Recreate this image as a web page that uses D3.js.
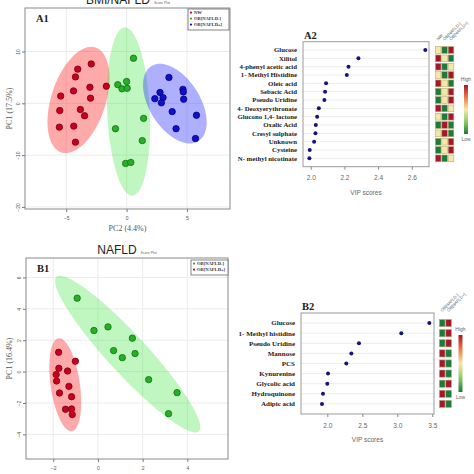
<!DOCTYPE html>
<html>
<head>
<meta charset="utf-8">
<script src="https://cdn.jsdelivr.net/npm/d3@7"></script>
<style>
body { margin: 0; background: #fff; }
svg { display: block; }
</style>
</head>
<body>
<svg id="chart" width="474" height="474"></svg>
<script>
// A1 score plot, each point is [PC2, PC1]
var a1Groups = ["NW", "OB[NAFLD-]", "OB[NAFLD+]"];
var a1NW = [[-2.93, 7.6], [-4.05, 6.6], [-4.24, 5.1], [-5.46, 1.4], [-4.40, 2.4], [-3.04, 3.1], [-2.99, 1.0],
            [-3.83, -1.2], [-5.54, -1.4], [-3.48, -2.4], [-5.57, -4.6], [-4.38, -4.4], [-4.24, -7.5], [-1.68, 3.3]];
var a1Neg = [[0.57, 8.7], [0.0, 4.2], [-0.73, 3.6], [-0.38, 2.8], [0.05, 2.9], [1.41, -2.9], [-0.92, -4.9],
             [1.30, -7.2], [-0.08, -11.6], [0.35, -11.4]];
var a1Pos = [[3.51, 5.0], [2.77, 2.1], [2.34, 0.9], [3.02, 1.1], [2.88, 0.1], [4.67, 2.7], [4.70, 2.2],
             [4.73, 0.8], [3.78, -1.6], [5.79, -2.3], [4.10, -4.9], [5.71, -6.8]];
var a1XTicks = [-5, 0, 5];
var a1YTicks = [10, 0, -10, -20];

// B1 score plot
var b1Groups = ["OB[NAFLD-]", "OB[NAFLD+]"];
var b1Neg = [[-0.93, 4.68], [-0.18, 2.62], [0.45, 2.85], [1.54, 2.13], [0.70, 1.34], [1.66, 1.15], [1.09, 0.89],
             [2.27, -0.51], [3.54, -1.34], [3.16, -2.68]];
var b1Pos = [[-1.76, 1.23], [-1.01, 0.66], [-1.75, 0.21], [-1.36, 0.04], [-1.87, -0.19], [-1.85, -0.60],
             [-1.30, -0.94], [-1.72, -1.36], [-1.18, -1.60], [-1.45, -2.40], [-1.18, -2.38], [-1.15, -2.74]];
var b1XTicks = [-2, 0, 2, 4];
var b1YTicks = [6, 4, 2, 0, -2, -4];

// A2 VIP scores
var a2Metabolites = ["Glucose", "Xilitol", "4-phenyl acetic acid", "1- Methyl Histidine", "Oleic acid",
  "Sebacic Acid", "Pseudo Uridine", "4- Deoxyerythronate", "Glucono 1,4- lactone", "Oxalic Acid",
  "Cresyl sulphate", "Unknown", "Cysteine", "N- methyl nicotinate"];
var a2Vip = [2.68, 2.283, 2.224, 2.214, 2.091, 2.085, 2.081, 2.048, 2.038, 2.030, 2.028, 2.020, 1.994, 1.992];
var a2Columns = ["NW", "OB[NAFLD-]", "OB[NAFLD+]"];
// 1 = high, 0 = mid, -1 = low
var a2Heat = [[0, -1, 1], [1, 0, -1], [1, -1, 0], [0, -1, 1], [1, 0, -1], [-1, 0, 1], [-1, 0, 1],
              [1, -1, 0], [0, -1, 1], [-1, 1, -1], [0, 1, -1], [-1, 0, 1], [-1, 0, 1], [1, -1, 0]];
var a2Ticks = [2.0, 2.2, 2.4, 2.6];

// B2 VIP scores
var b2Metabolites = ["Glucose", "1- Methyl histidine", "Pseudo Uridine", "Mannose", "PCS", "Kynurenine",
  "Glycolic acid", "Hydroquinone", "Adipic acid"];
var b2Vip = [3.457, 3.057, 2.452, 2.343, 2.271, 2.01, 2.0, 1.938, 1.924];
var b2Columns = ["OB[NAFLD-]", "OB[NAFLD+]"];
var b2Heat = [[-1, 1], [-1, 1], [-1, 1], [1, -1], [1, -1], [1, -1], [-1, 1], [1, -1], [1, -1]];
var b2Ticks = [2.0, 2.5, 3.0, 3.5];

var svg = d3.select("#chart");
var serif = "'Liberation Serif', 'Times New Roman', serif";
var sans = "'Liberation Sans', Arial, sans-serif";
var level = 0.93;

var heatColor = d3.scaleLinear()
    .domain([-1, -0.5, 0, 0.5, 1])
    .range(["#1c7a3b", "#8ccf6a", "#f4e8a8", "#ee7a44", "#a3182b"]);

// confidence ellipse from the points of one group
function ellipse(pts) {
    var mx = d3.mean(pts, d => d[0]), my = d3.mean(pts, d => d[1]);
    var n = pts.length;
    var sxx = d3.sum(pts, d => (d[0] - mx) * (d[0] - mx)) / (n - 1);
    var syy = d3.sum(pts, d => (d[1] - my) * (d[1] - my)) / (n - 1);
    var sxy = d3.sum(pts, d => (d[0] - mx) * (d[1] - my)) / (n - 1);
    var tr = sxx + syy, det = sxx * syy - sxy * sxy;
    var l1 = tr / 2 + Math.sqrt(tr * tr / 4 - det);
    var l2 = tr / 2 - Math.sqrt(tr * tr / 4 - det);
    var ang = Math.atan2(l1 - sxx, sxy);
    if (Math.abs(sxy) < 1e-9) ang = sxx >= syy ? 0 : Math.PI / 2;
    var c = -2 * Math.log(1 - level);
    var a = Math.sqrt(c * l1), b = Math.sqrt(c * l2);
    return d3.range(0, 120).map(function(i) {
        var t = i / 120 * 2 * Math.PI;
        var ex = a * Math.cos(t), ey = b * Math.sin(t);
        return [mx + ex * Math.cos(ang) - ey * Math.sin(ang), my + ex * Math.sin(ang) + ey * Math.cos(ang)];
    });
}

function scorePlot(cfg) {
    var g = svg.append("g");
    var x = d3.scaleLinear().domain(cfg.xDomain).range([cfg.left, cfg.right]);
    var y = d3.scaleLinear().domain(cfg.yDomain).range([cfg.bottom, cfg.top]);

    g.selectAll(".vgrid").data(cfg.xTicks).enter().append("line")
        .attr("x1", d => x(d)).attr("x2", d => x(d))
        .attr("y1", cfg.top).attr("y2", cfg.bottom)
        .attr("stroke", "#ebebeb");
    g.selectAll(".hgrid").data(cfg.yTicks).enter().append("line")
        .attr("x1", cfg.left).attr("x2", cfg.right)
        .attr("y1", d => y(d)).attr("y2", d => y(d))
        .attr("stroke", "#ebebeb");

    var line = d3.line().x(d => x(d[0])).y(d => y(d[1])).curve(d3.curveLinearClosed);
    cfg.groups.forEach(function(gr) {
        g.append("path")
            .attr("d", line(ellipse(gr.pts)))
            .attr("fill", gr.fill)
            .attr("fill-opacity", gr.opacity)
            .attr("stroke", "none");
    });
    cfg.groups.forEach(function(gr) {
        g.selectAll(null).data(gr.pts).enter().append("circle")
            .attr("cx", d => x(d[0]))
            .attr("cy", d => y(d[1]))
            .attr("r", 3.2)
            .attr("fill", gr.color)
            .attr("stroke", gr.stroke)
            .attr("stroke-width", 0.8);
    });

    g.append("rect")
        .attr("x", cfg.left).attr("y", cfg.top)
        .attr("width", cfg.right - cfg.left).attr("height", cfg.bottom - cfg.top)
        .attr("fill", "none").attr("stroke", "#8a8a8a").attr("stroke-width", 1);

    var xAxis = g.append("g")
        .attr("transform", "translate(0," + cfg.bottom + ")")
        .call(d3.axisBottom(x).tickValues(cfg.xTicks).tickSize(3).tickPadding(4).tickFormat(d3.format("d")));
    xAxis.select(".domain").remove();
    xAxis.selectAll("line").attr("stroke", "#777");
    xAxis.selectAll("text").style("font-size", "5px").style("font-family", sans).attr("fill", "#555");

    var yAxis = g.append("g")
        .attr("transform", "translate(" + cfg.left + ",0)")
        .call(d3.axisLeft(y).tickValues(cfg.yTicks).tickSize(3).tickFormat(d3.format("d")));
    yAxis.select(".domain").remove();
    yAxis.selectAll("line").attr("stroke", "#777");
    yAxis.selectAll("text")
        .attr("x", 0).attr("y", -5).attr("dy", 0)
        .attr("transform", "rotate(-90)")
        .style("text-anchor", "middle")
        .style("font-size", "5px").style("font-family", sans).attr("fill", "#555");

    g.append("text")
        .attr("transform", "translate(" + cfg.yLabelX + "," + ((cfg.top + cfg.bottom) / 2) + ") rotate(-90)")
        .style("text-anchor", "middle")
        .style("font-family", serif).style("font-size", "8px").attr("fill", "#555")
        .text(cfg.yLabel);
    if (cfg.xLabel) {
        g.append("text")
            .attr("x", (cfg.left + cfg.right) / 2).attr("y", cfg.xLabelY)
            .style("text-anchor", "middle")
            .style("font-family", serif).style("font-size", "8px").attr("fill", "#555")
            .text(cfg.xLabel);
    }

    g.append("text")
        .attr("x", cfg.left + 11).attr("y", cfg.top + 14)
        .style("font-family", serif).style("font-weight", "bold").style("font-size", "10.5px")
        .attr("fill", "#222")
        .text(cfg.panel);

    var tt = g.append("text")
        .attr("x", cfg.titleX).attr("y", cfg.titleY)
        .style("text-anchor", "middle");
    tt.append("tspan").style("font-family", sans).style("font-size", "12px").attr("fill", "#222").text(cfg.title);
    tt.append("tspan").attr("dx", 4).style("font-family", sans).style("font-size", "3.5px").attr("fill", "#666").text("Score Plot");

    // legend
    var lg = g.append("g").attr("transform", "translate(" + cfg.legendX + "," + cfg.legendY + ")");
    lg.append("rect")
        .attr("width", cfg.legendW).attr("height", cfg.groups.length * 6 + 3)
        .attr("fill", "#fff").attr("stroke", "#666").attr("stroke-width", 0.8);
    var item = lg.selectAll(".item").data(cfg.groups).enter().append("g")
        .attr("transform", (d, i) => "translate(3," + (5 + i * 6) + ")");
    item.append("circle").attr("r", 1.1).attr("cy", -1.4).attr("fill", d => d.color);
    item.append("text").attr("x", 3)
        .style("font-family", serif).style("font-weight", "bold").style("font-size", "4.6px")
        .attr("fill", "#333")
        .text(d => d.name);
}

function vipPlot(cfg) {
    var g = svg.append("g");
    var x = d3.scaleLinear().domain(cfg.xDomain).range([cfg.left, cfg.right]);
    var y = d3.scalePoint().domain(cfg.names).range([cfg.top, cfg.bottom]).padding(1);

    g.selectAll(".grid").data(cfg.names).enter().append("line")
        .attr("x1", cfg.left).attr("x2", cfg.right)
        .attr("y1", d => y(d)).attr("y2", d => y(d))
        .attr("stroke", "#ececec");

    g.append("rect")
        .attr("x", cfg.left).attr("y", cfg.top)
        .attr("width", cfg.right - cfg.left).attr("height", cfg.bottom - cfg.top)
        .attr("fill", "none").attr("stroke", "#9a9a9a").attr("stroke-width", 1);

    g.selectAll(".dot").data(cfg.vip).enter().append("circle")
        .attr("cx", d => x(d))
        .attr("cy", (d, i) => y(cfg.names[i]))
        .attr("r", 2)
        .attr("fill", "#14147a");

    g.selectAll(".name").data(cfg.names).enter().append("text")
        .attr("x", cfg.left - 6).attr("y", d => y(d)).attr("dy", "0.33em")
        .style("text-anchor", "end")
        .style("font-family", serif).style("font-weight", "bold").style("font-size", cfg.fontSize + "px")
        .attr("fill", "#222")
        .text(d => d);

    var xAxis = g.append("g")
        .attr("transform", "translate(0," + cfg.bottom + ")")
        .call(d3.axisBottom(x).tickValues(cfg.ticks).tickSize(3).tickPadding(6).tickFormat(d3.format(".1f")));
    xAxis.select(".domain").remove();
    xAxis.selectAll("line").attr("stroke", "#888");
    xAxis.selectAll("text").style("font-size", "6.5px").style("font-family", sans).attr("fill", "#666");

    g.append("text")
        .attr("x", (cfg.left + cfg.right) / 2).attr("y", cfg.bottom + 28)
        .style("text-anchor", "middle")
        .style("font-family", sans).style("font-size", "6.5px").attr("fill", "#666")
        .text("VIP scores");

    g.append("text")
        .attr("x", cfg.left + 1).attr("y", cfg.top - 3)
        .style("font-family", serif).style("font-weight", "bold").style("font-size", "10.5px")
        .attr("fill", "#222")
        .text(cfg.panel);

    // heat map of group levels
    var cx = d3.scaleBand().domain(cfg.columns).range([cfg.heatX, cfg.heatX + cfg.columns.length * 6.4]);
    cfg.heat.forEach(function(row, i) {
        g.selectAll(null).data(row).enter().append("rect")
            .attr("x", (d, j) => cx(cfg.columns[j]) + 0.4)
            .attr("y", y(cfg.names[i]) - cfg.cellH / 2)
            .attr("width", cx.bandwidth() - 0.8)
            .attr("height", cfg.cellH)
            .attr("fill", d => heatColor(d))
            .attr("stroke", "#b9a878")
            .attr("stroke-width", 0.6);
    });
    g.selectAll(".col").data(cfg.columns).enter().append("text")
        .attr("transform", d => "translate(" + (cx(d) + cx.bandwidth() / 2) + "," + (cfg.top - 1) + ") rotate(-45)")
        .style("font-family", sans).style("font-size", "4.2px").attr("fill", "#666")
        .text(d => d);

    // colour key
    var gradId = "grad" + cfg.panel;
    var grad = svg.append("defs").append("linearGradient")
        .attr("id", gradId).attr("x1", 0).attr("x2", 0).attr("y1", 0).attr("y2", 1);
    grad.selectAll("stop").data(d3.range(0, 1.01, 0.1)).enter().append("stop")
        .attr("offset", d => d)
        .attr("stop-color", d => heatColor(1 - 2 * d));
    g.append("rect")
        .attr("x", cfg.keyX).attr("y", cfg.keyTop)
        .attr("width", 4).attr("height", cfg.keyBottom - cfg.keyTop)
        .attr("fill", "url(#" + gradId + ")");
    g.append("text").attr("x", cfg.keyX + 2).attr("y", cfg.keyTop - 4)
        .style("text-anchor", "middle").style("font-family", sans).style("font-size", "5px").attr("fill", "#666")
        .text("High");
    g.append("text").attr("x", cfg.keyX + 2).attr("y", cfg.keyBottom + 7)
        .style("text-anchor", "middle").style("font-family", sans).style("font-size", "5px").attr("fill", "#666")
        .text("Low");
}

scorePlot({
    left: 25, right: 230, top: 8, bottom: 209,
    xDomain: [-8.42, 8.57], yDomain: [-20.4, 18.4],
    xTicks: a1XTicks, yTicks: a1YTicks,
    yLabel: "PC1 (17.5%)", yLabelX: 12,
    xLabel: "PC2 (4.4%)", xLabelY: 231,
    panel: "A1", title: "BMI/NAFLD", titleX: 128, titleY: 4,
    legendX: 188, legendY: 9, legendW: 41,
    groups: [
        {name: a1Groups[0], pts: a1NW, color: "#c8001e", stroke: "#7a0012", fill: "#ff2020", opacity: 0.38},
        {name: a1Groups[1], pts: a1Neg, color: "#26b026", stroke: "#127012", fill: "#30e030", opacity: 0.3},
        {name: a1Groups[2], pts: a1Pos, color: "#1010c8", stroke: "#000080", fill: "#2020ff", opacity: 0.36}
    ]
});

scorePlot({
    left: 26, right: 228, top: 258, bottom: 459,
    xDomain: [-3.22, 5.82], yDomain: [-5.57, 7.24],
    xTicks: b1XTicks, yTicks: b1YTicks,
    yLabel: "PC1 (16.4%)", yLabelX: 12,
    xLabel: null,
    panel: "B1", title: "NAFLD", titleX: 127, titleY: 254,
    legendX: 191, legendY: 260, legendW: 37,
    groups: [
        {name: b1Groups[0], pts: b1Neg, color: "#26b026", stroke: "#127012", fill: "#30e030", opacity: 0.3},
        {name: b1Groups[1], pts: b1Pos, color: "#c8001e", stroke: "#7a0012", fill: "#ff2020", opacity: 0.38}
    ]
});

vipPlot({
    left: 303, right: 429, top: 41.7, bottom: 166.7,
    xDomain: [1.954, 2.702], ticks: a2Ticks,
    names: a2Metabolites, vip: a2Vip, fontSize: 6.8,
    panel: "A2", columns: a2Columns, heat: a2Heat, heatX: 435, cellH: 6.8,
    keyX: 464, keyTop: 85, keyBottom: 134
});

vipPlot({
    left: 301, right: 434, top: 313, bottom: 414,
    xDomain: [1.624, 3.524], ticks: b2Ticks,
    names: b2Metabolites, vip: b2Vip, fontSize: 7,
    panel: "B2", columns: b2Columns, heat: b2Heat, heatX: 439, cellH: 7.2,
    keyX: 458.5, keyTop: 335, keyBottom: 392
});
</script>
</body>
</html>
